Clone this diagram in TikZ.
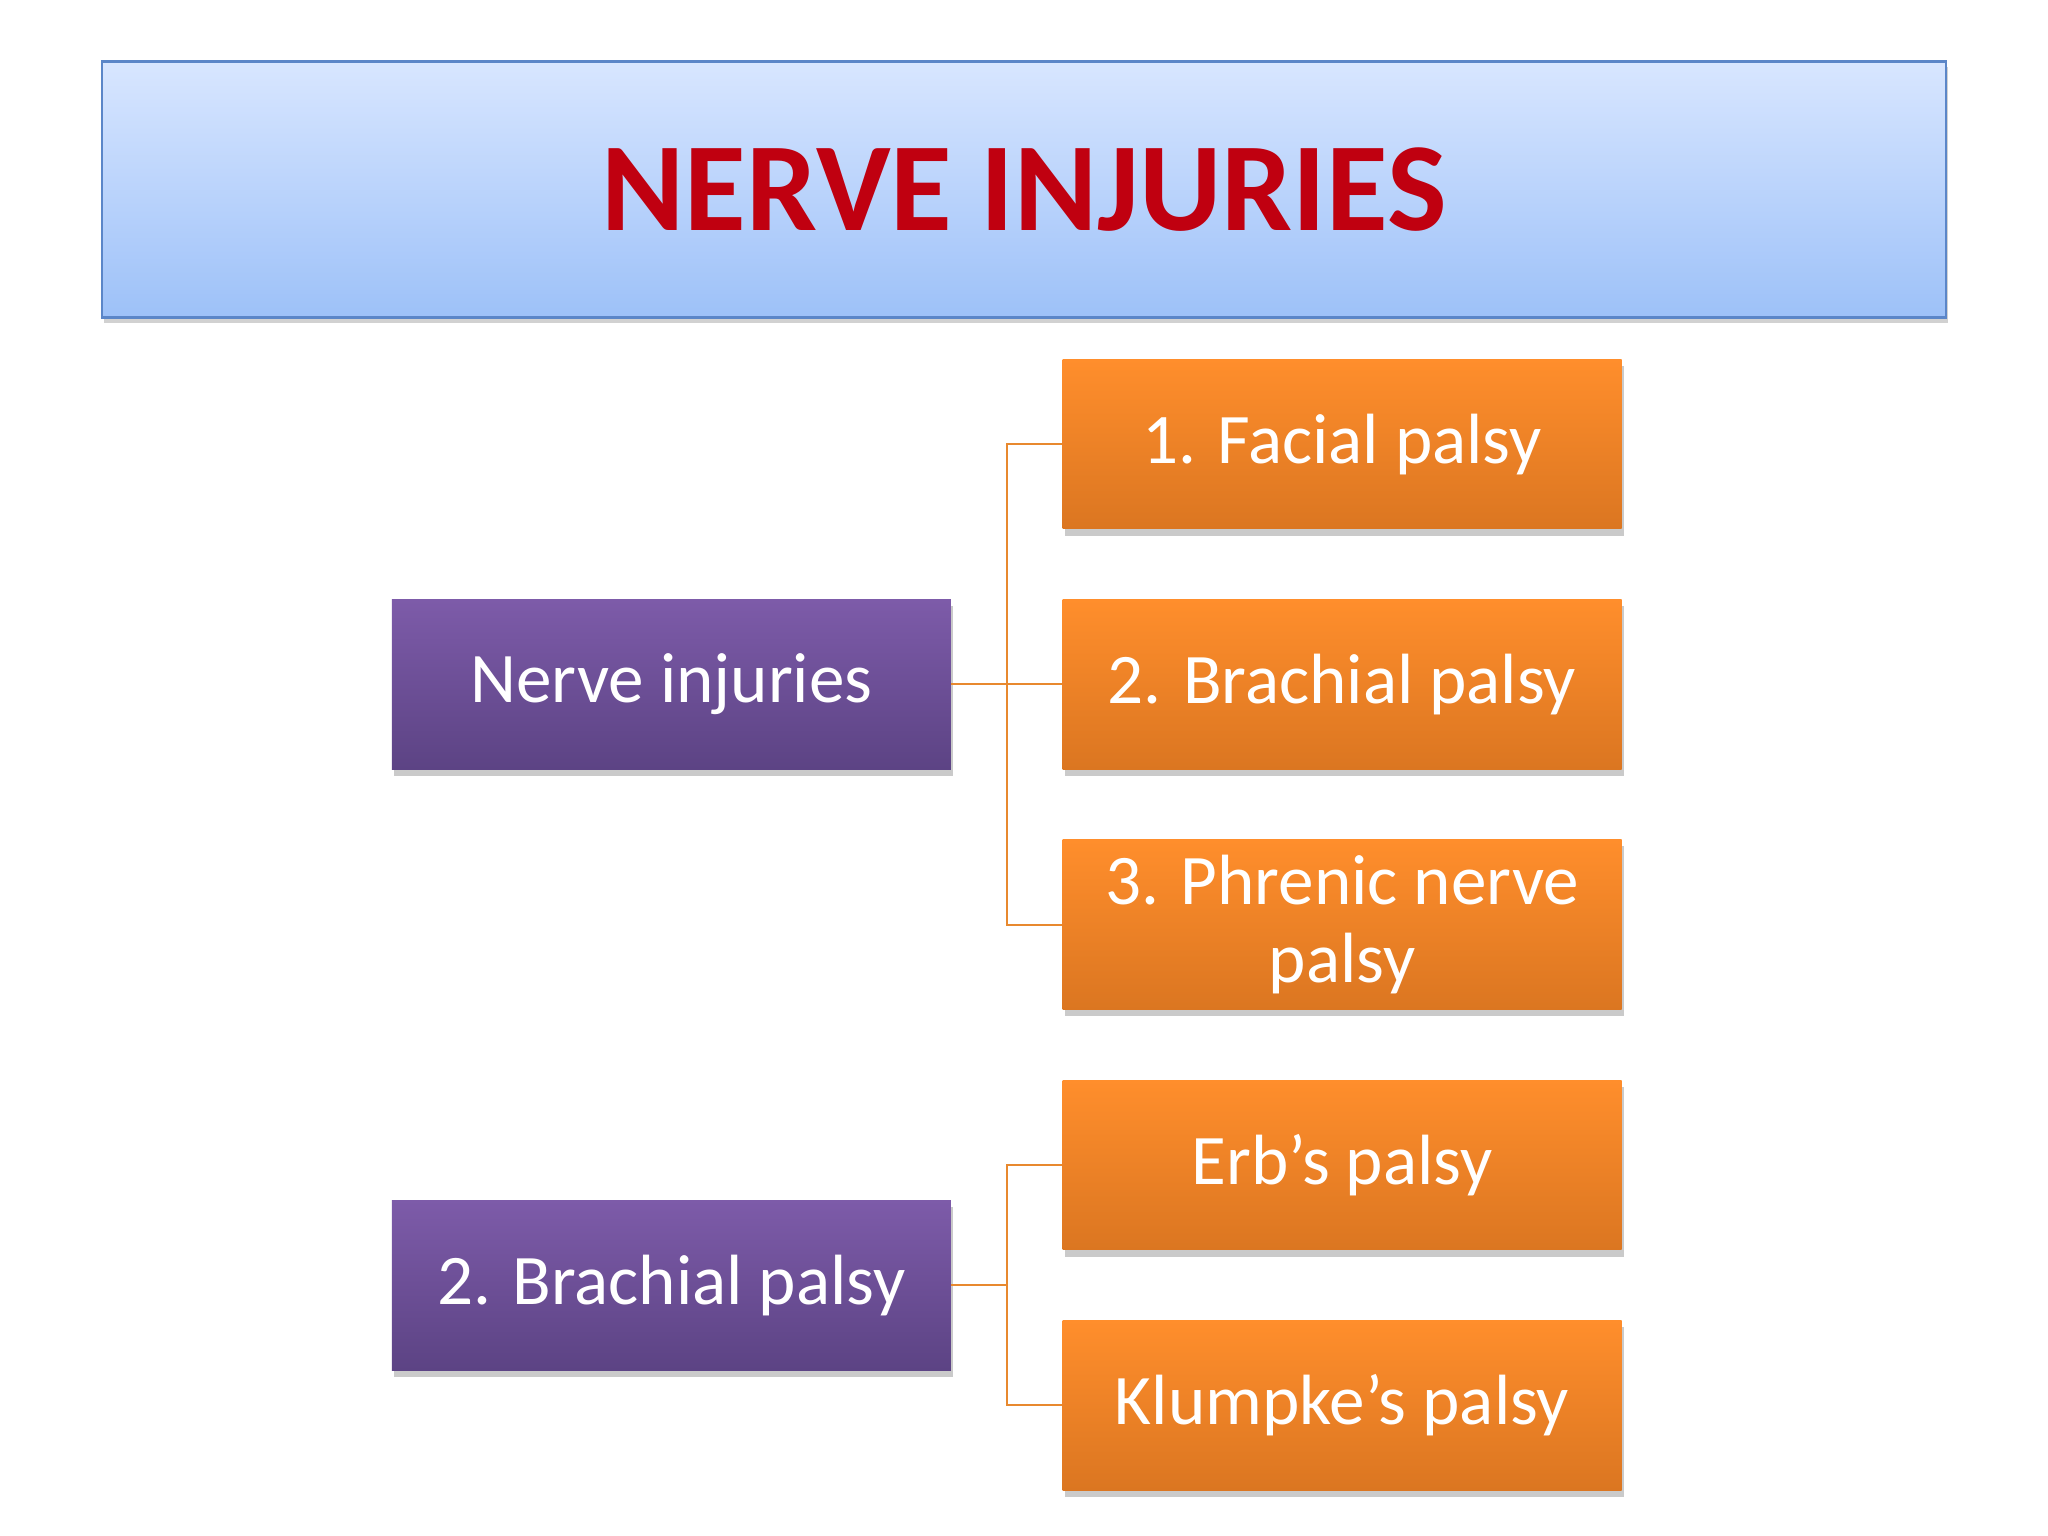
\documentclass[tikz,border=0pt]{standalone}
\usepackage{fontspec}
\setmainfont{Carlito}
\usetikzlibrary{shadows}
\definecolor{ttop}{HTML}{D8E6FF}
\definecolor{tbot}{HTML}{9DC1F8}
\definecolor{tline}{HTML}{5B86C8}
\definecolor{ored}{HTML}{C00010}
\definecolor{otop}{HTML}{FF8E2C}
\definecolor{obot}{HTML}{DB7621}
\definecolor{ptop}{HTML}{7D5BA9}
\definecolor{pbot}{HTML}{5C4384}
\definecolor{conn}{HTML}{E8892F}
\tikzset{
  box/.style={minimum width=428*0.02cm, minimum height=130*0.02cm, align=center,
    text=white, font=\fontsize{31}{36}\selectfont,
    drop shadow={shadow xshift=0.04cm, shadow yshift=-0.1cm, fill=black!35, opacity=0.6}},
  obox/.style={box, top color=otop, bottom color=obot},
  pbox/.style={box, top color=ptop, bottom color=pbot},
  link/.style={draw=conn, line width=0.8pt}
}
\begin{document}
\begin{tikzpicture}[x=0.02cm,y=-0.02cm]
\useasboundingbox (0,0) rectangle (1568,1176);
\node[draw=tline, line width=1pt, top color=ttop, bottom color=tbot,
  minimum width=1412*0.02cm, minimum height=196*0.02cm,
  drop shadow={shadow xshift=0.03cm, shadow yshift=-0.08cm, fill=black!30, opacity=0.6},
  text=ored, font=\fontsize{55}{60}\selectfont\bfseries] (title) at (784,145) {NERVE INJURIES};
\node[obox] (f) at (1027.5,340) {1. Facial palsy};
\node[obox] (b) at (1027.5,524) {2. Brachial palsy};
\node[obox] (p) at (1027.5,708) {3. Phrenic nerve\\[-2pt]palsy};
\node[obox] (e) at (1027.5,892) {Erb’s palsy};
\node[obox] (k) at (1027.5,1076) {Klumpke’s palsy};
\node[pbox] (n) at (514,524) {Nerve injuries};
\node[pbox] (b2) at (514,984) {2. Brachial palsy};
\coordinate (j1) at (771,524);
\coordinate (j2) at (771,984);
\draw[link] (n.east) -- (b.west);
\draw[link] (f.west) -| (j1) |- (p.west);
\draw[link] (b2.east) -- (j2);
\draw[link] (e.west) -| (j2) |- (k.west);
\end{tikzpicture}
\end{document}
